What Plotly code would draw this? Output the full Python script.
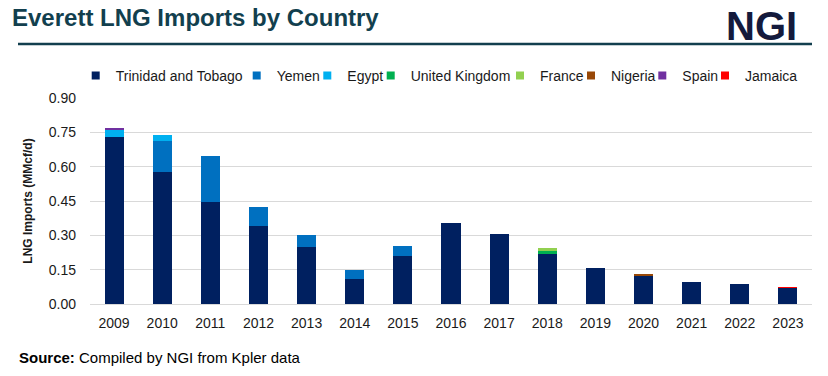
import plotly.graph_objects as go

years = ["2009", "2010", "2011", "2012", "2013", "2014", "2015", "2016",
         "2017", "2018", "2019", "2020", "2021", "2022", "2023"]

trinidad = [0.730, 0.578, 0.445, 0.340, 0.249, 0.109, 0.209, 0.353,
            0.305, 0.218, 0.157, 0.122, 0.096, 0.087, 0.070]
yemen = [0, 0.135, 0.203, 0.083, 0.052, 0.039, 0.044, 0,
         0, 0, 0, 0, 0, 0, 0]
egypt = [0.034, 0.026, 0, 0, 0, 0, 0, 0, 0, 0, 0, 0, 0, 0, 0]
uk = [0, 0, 0, 0, 0, 0, 0, 0, 0, 0.013, 0, 0, 0, 0, 0]
france = [0, 0, 0, 0, 0, 0, 0, 0, 0, 0.014, 0, 0, 0, 0, 0]
nigeria = [0, 0, 0, 0, 0, 0, 0, 0, 0, 0, 0, 0.009, 0, 0, 0]
spain = [0.006, 0, 0, 0, 0, 0, 0, 0, 0, 0, 0, 0, 0, 0, 0]
jamaica = [0, 0, 0, 0, 0, 0, 0, 0, 0, 0, 0, 0, 0, 0, 0.004]

y_ticks = [0.00, 0.15, 0.30, 0.45, 0.60, 0.75, 0.90]

series = [
    ("Trinidad and Tobago", trinidad, "#002060", 116),
    ("Yemen", yemen, "#0070C0", 25.6),
    ("Egypt", egypt, "#00B0F0", 18.4),
    ("United Kingdom", uk, "#00B050", 84.3),
    ("France", france, "#92D050", 26),
    ("Nigeria", nigeria, "#984807", 26.3),
    ("Spain", spain, "#7030A0", 17.7),
    ("Jamaica", jamaica, "#FF0000", 55),
]

FONT = "Liberation Sans, Arial, sans-serif"
TXT = "#1a1a1a"
W, H = 828, 376
ML, MR, MT, MB = 90, 16, 98, 72
PW, PH = W - ML - MR, H - MT - MB


def px_x(x):
    return (x - ML) / PW


def px_y(y):
    return (H - MB - y) / PH


fig = go.Figure()
for name, vals, color, lw in series:
    fig.add_trace(go.Bar(
        x=years, y=vals, name=name, legendgroup=name, showlegend=False,
        marker=dict(color=color, line=dict(width=0)),
    ))
# legend entries (small square keys, as in the original)
for name, vals, color, lw in series:
    fig.add_trace(go.Scatter(
        x=[None], y=[None], mode="markers", name=name, legendgroup=name,
        marker=dict(symbol="square", size=8, color=color, line=dict(width=0)),
        legendwidth=lw, hoverinfo="skip",
    ))

fig.update_layout(
    width=W, height=H,
    barmode="stack", bargap=0.605,
    paper_bgcolor="white", plot_bgcolor="white",
    margin=dict(l=ML, r=MR, t=MT, b=MB, autoexpand=False),
    font=dict(family=FONT, size=14, color=TXT),
    showlegend=True,
    legend=dict(
        orientation="h", x=px_x(75.7), xanchor="left", y=px_y(76), yanchor="middle",
        font=dict(family=FONT, size=14, color=TXT),
        bgcolor="rgba(0,0,0,0)", borderwidth=0, traceorder="normal",
    ),
    xaxis=dict(
        type="category", showgrid=False, showline=False, ticks="",
        tickfont=dict(family=FONT, size=14, color=TXT), ticklabelstandoff=9,
    ),
    yaxis=dict(
        range=[0, 0.9], tickvals=y_ticks, tickformat=".2f",
        showgrid=True, gridcolor="#D9D9D9", gridwidth=1.3,
        zeroline=True, zerolinecolor="#D9D9D9", zerolinewidth=1.3,
        showline=False, ticks="",
        tickfont=dict(family=FONT, size=14, color=TXT), ticklabelstandoff=13,
        title=dict(text="<b>LNG Imports (MMcf/d)</b>",
                   font=dict(family=FONT, size=12, color=TXT), standoff=13),
    ),
)

fig.add_annotation(
    text="<b>Everett LNG Imports by Country</b>", xref="paper", yref="paper",
    x=px_x(10), y=px_y(18), xanchor="left", yanchor="middle",
    font=dict(family=FONT, size=24, color="#123F4E"), showarrow=False,
)
fig.add_annotation(
    text="<b>NGI</b>", xref="paper", yref="paper",
    x=px_x(799), y=px_y(26), xanchor="right", yanchor="middle",
    font=dict(family=FONT, size=40, color="#141A3C"), showarrow=False,
)
fig.add_annotation(
    text="<b>Source:</b> Compiled by NGI from Kpler data", xref="paper", yref="paper",
    x=px_x(16.5), y=px_y(357), xanchor="left", yanchor="middle",
    font=dict(family=FONT, size=15, color="#000000"), showarrow=False,
)
fig.add_shape(
    type="line", xref="paper", yref="paper",
    x0=px_x(18), x1=px_x(812), y0=px_y(44), y1=px_y(44),
    line=dict(color="#123F4E", width=2.5),
)

fig.write_html(
    "out.html",
    config={"displayModeBar": False},
    post_script="document.body.style.margin='0';document.body.style.overflow='hidden';",
)
